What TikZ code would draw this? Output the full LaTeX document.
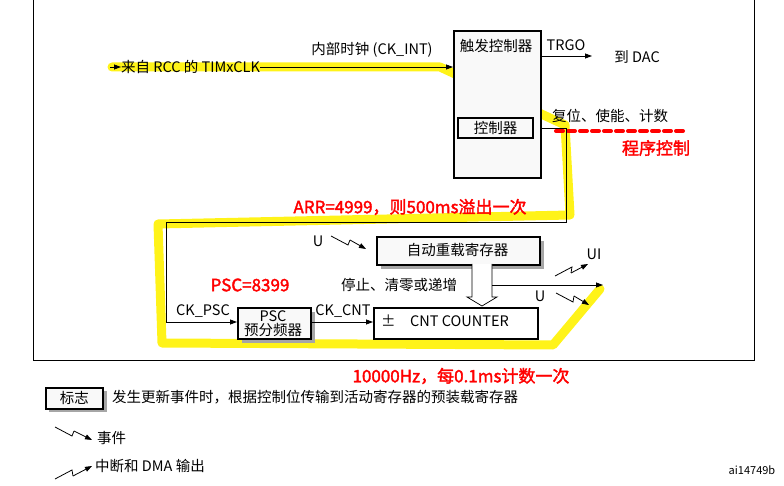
\documentclass[tikz,border=0pt]{standalone}
\usepackage{fontspec}
\setmainfont{Noto Sans CJK SC}[AutoFakeBold=2]
\usetikzlibrary{arrows.meta}
\begin{document}
\begin{tikzpicture}[x=1pt,y=-1pt,
  txt/.style={font=\fontsize{14.5}{16}\selectfont, inner sep=0pt},
  redt/.style={font=\fontsize{17}{19}\selectfont\bfseries, text=red, inner sep=0pt},
  box/.style={draw, line width=1.6pt, fill=gray!5},
  shadow/.style={fill=gray!70, draw=none},
  arr/.style={-{Triangle[length=7pt,width=5pt]}, line width=0.8pt},
  hl/.style={yellow, line width=9pt, line join=round, line cap=round, opacity=0.9}]
\useasboundingbox (0,0) rectangle (784,486);
% frame
\draw[line width=1pt] (33,0) -- (33,360) -- (754,360) -- (754,0);
% highlight
\draw[hl] (112,67) -- (440,67) -- (565,125) -- (570,215) -- (158,224) -- (162,343) -- (553,345) -- (600,289);
% trigger controller
\node[box, minimum width=87pt, minimum height=147pt, anchor=north west] (trig) at (453,30) {};
\node[txt] (trigl) at (496,46) {触发控制器};
\node[draw, line width=1.4pt, minimum width=75pt, minimum height=20pt, inner sep=0pt, font=\fontsize{14.5}{16}\selectfont] (ctl) at (495.5,128) {控制器};
% input
\node[txt, anchor=west] (rcc) at (121,67) {来自 RCC 的 TIMxCLK};
\coordinate (in0) at (110,67);
\draw[arr] (in0) -- (rcc.west);
\draw[arr] (rcc.east) -- (trig.west |- rcc.east);
\node[txt] (ckint) at (372,50) {内部时钟 (CK\_INT)};
% TRGO
\coordinate (trgo) at (trig.east |- 0,56);
\coordinate (dac) at (592,56);
\draw[arr] (trgo) -- (dac);
\node[txt] (trgol) at (566,45) {TRGO};
\node[txt] (dacl) at (637,57) {到 DAC};
\node[txt] (rst) at (610,116) {复位、使能、计数};
\draw[red, line width=4pt, dash pattern=on 7pt off 5pt, line cap=round] (556,131) -- (684,131);
\node[redt] (prog) at (656,148) {程序控制};
% path to PSC
\coordinate (p1) at (566,128);
\coordinate (p2) at (566,222);
\coordinate (p3) at (166,222);
\coordinate (p4) at (166,322);
\draw[line width=0.8pt] (trig.east |- p1) -- (p1) -- (p2) -- (p3) -- (p4);
\node[redt] (arr) at (410,207) {ARR=4999，则500ms溢出一次};
% PSC box
\fill[shadow] (242,312) rectangle (315,343);
\node[box, minimum width=73pt, minimum height=31pt, inner sep=0pt, anchor=north west] (psc) at (237,307) {};
\node[txt] at (273,316) {PSC};
\node[txt] at (273,330) {预分频器};
\draw[arr] (p4) -- (psc.west |- p4);
\node[txt] (ckpsc) at (203,311) {CK\_PSC};
% CNT
\node[box, fill=white, minimum width=164pt, minimum height=31pt, inner sep=0pt, anchor=north west] (cnt) at (373,307) {};
\node[txt, anchor=west] at (381,321) {±\quad CNT COUNTER};
\draw[arr] (psc.east |- 0,322) -- (cnt.west |- 0,322);
\node[txt] (ckcnt) at (343,311) {CK\_CNT};
% ARR box
\fill[shadow] (381,241) rectangle (544,269);
\node[box, minimum width=163pt, minimum height=28pt, inner sep=0pt, anchor=north west] (reload) at (376,236) {};
\node[txt] at (457.5,250) {自动重载寄存器};
% hollow arrow
\draw[line width=0.7pt, fill=white] (472,264) -- (472,297) -- (467,297) -- (482,306) -- (497,297) -- (492,297) -- (492,264);
\coordinate (ov0) at (492,285);
\coordinate (ov1) at (603,285);
\draw[arr] (ov0) -- (ov1);
\node[txt] (stop) at (399,285) {停止、清零或递增};
\node[redt] (psct) at (250,285) {PSC=8399};
% events
\node[txt] (u1) at (318,241) {U};
\draw[line width=0.8pt] (331,236) -- ++(17,9) -- ++(2,-5);
\draw[arr] (350,240) -- (366,249);
\node[txt] (ui) at (594,254) {UI};
\draw[line width=0.8pt] (555,276) -- ++(17,-9) -- ++(-1,6);
\draw[arr] (571,273) -- (588,264);
\node[txt] (u2) at (540,296) {U};
\draw[line width=0.8pt] (556,293) -- ++(17,9) -- ++(1,-6);
\draw[arr] (574,296) -- (589,305);
\node[redt] (hz) at (461,376) {10000Hz，每0.1ms计数一次};
% legend
\fill[shadow] (49,391) rectangle (107,412);
\node[draw, line width=1.6pt, fill=gray!5, minimum width=57pt, minimum height=21pt, inner sep=0pt, font=\fontsize{14.5}{16}\selectfont, anchor=north west] (flag) at (45,387) {标志};
\node[txt, anchor=west] (flagt) at (112,397) {发生更新事件时，根据控制位传输到活动寄存器的预装载寄存器};
\draw[line width=0.8pt] (55,427) -- ++(17,9) -- ++(2,-5);
\draw[arr] (74,431) -- (92,440);
\node[txt, anchor=west] (ev) at (97,438) {事件};
\draw[line width=0.8pt] (55,479) -- ++(17,-9) -- ++(1,6);
\draw[arr] (73,476) -- (92,466);
\node[txt, anchor=west] (dma) at (95,466) {中断和 DMA 输出};
\node[font=\fontsize{11}{12}\selectfont, inner sep=0pt] (ai) at (752,470) {ai14749b};
\end{tikzpicture}
\end{document}
